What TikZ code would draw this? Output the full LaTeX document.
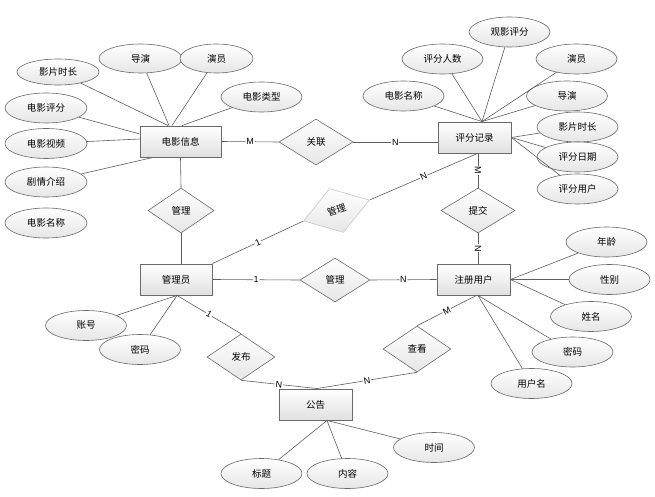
\documentclass[tikz,border=0pt]{standalone}
\usepackage{fontspec}
\newfontfamily\cjk{Noto Sans CJK SC}
\newfontfamily\lat{Liberation Sans}
\usetikzlibrary{shapes.geometric,shadows}
\definecolor{edgec}{HTML}{6A6A6A}
\definecolor{lineC}{HTML}{5E5E5E}
\definecolor{fillB}{HTML}{E0E0E0}
\definecolor{fillE}{HTML}{E6E6E6}
\begin{document}
\begin{tikzpicture}[x=1pt,y=-1pt,
  every node/.style={font=\cjk\fontsize{9.5}{11}\selectfont, text=black},
  entity/.style={rectangle, draw=edgec, line width=0.9pt, top color=white, bottom color=fillB,
    minimum height=31pt, minimum width=73pt, inner sep=0pt,
    drop shadow={opacity=0.25, shadow xshift=0.8pt, shadow yshift=-0.8pt}},
  attr/.style={ellipse, draw=edgec, line width=0.6pt, top color=white, bottom color=fillE,
    minimum width=81pt, minimum height=30pt, inner sep=0pt},
  rel/.style={diamond, draw=edgec, line width=0.6pt, top color=white, bottom color=fillE,
    minimum width=68pt, minimum height=46pt, inner sep=0pt},
  faded/.style={draw=black!22},
  conn/.style={draw=lineC, line width=0.6pt},
  lbl/.style={font=\lat\fontsize{9}{10}\selectfont, fill=white, inner sep=0.8pt, midway, sloped}
]
\fill[white] (0,0) rectangle (655,497);
\useasboundingbox (0,0) rectangle (655,497);

% entities
\node[entity, minimum width=81pt] (mi) at (180.5,141.5) {电影信息};
\node[entity] (pj) at (474.5,137.5) {评分记录};
\node[entity, minimum width=72pt] (gy) at (176,279.5) {管理员};
\node[entity] (zc) at (473.5,279.5) {注册用户};
\node[entity] (ga) at (315.5,404.5) {公告};

% relations
\node[rel, minimum width=74pt] (gl) at (316,142) {关联};
\node[rel, minimum width=66pt, minimum height=45pt] (gl2) at (181,210.5) {管理};
\node[rel, faded, rotate=17.6, minimum width=69pt, minimum height=46pt] (gr) at (336.5,210.5) {管理};
\node[rel, minimum width=70pt, minimum height=44pt] (gm) at (335,280) {管理};
\node[rel, minimum width=74pt, minimum height=45pt] (tj) at (478,210.5) {提交};
\node[rel] (fb) at (241,357) {发布};
\node[rel] (ck) at (417,349) {查看};

% attributes of 电影信息
\node[attr, minimum width=82pt, minimum height=26pt] (a1) at (58,72) {影片时长};
\node[attr, minimum width=83pt, minimum height=29pt] (a2) at (140.5,58.5) {导演};
\node[attr, minimum width=73pt, minimum height=29pt] (a3) at (216.5,58.5) {演员};
\node[attr] (a4) at (261.5,97) {电影类型};
\node[attr, minimum width=82pt] (a5) at (46,108) {电影评分};
\node[attr, minimum width=82pt] (a6) at (46,143.5) {电影视频};
\node[attr, minimum width=82pt] (a7) at (46,182) {剧情介绍};
\node[attr, minimum width=82pt] (a8) at (46,223) {电影名称};

% attributes of 评分记录
\node[attr] (b1) at (509.5,32) {观影评分};
\node[attr] (b2) at (442.5,59) {评分人数};
\node[attr] (b3) at (576.5,59) {演员};
\node[attr] (b4) at (403.5,96) {电影名称};
\node[attr] (b5) at (567,96) {导演};
\node[attr] (b6) at (577.5,127) {影片时长};
\node[attr] (b7) at (577.5,157) {评分日期};
\node[attr] (b8) at (577.5,189) {评分用户};

% attributes of 注册用户
\node[attr] (c1) at (606.5,242) {年龄};
\node[attr] (c2) at (609.5,279.5) {性别};
\node[attr] (c3) at (591,316.5) {姓名};
\node[attr] (c4) at (572.5,352) {密码};
\node[attr] (c5) at (531.5,383.5) {用户名};

% attributes of 管理员
\node[attr] (d1) at (86,325.5) {账号};
\node[attr] (d2) at (140,349.5) {密码};

% attributes of 公告
\node[attr] (e1) at (261.5,473.5) {标题};
\node[attr] (e2) at (347.5,473.5) {内容};
\node[attr] (e3) at (434,447.5) {时间};

% attribute connectors
\draw[conn] (a1) -- ([xshift=-12.5pt]mi.north);
\draw[conn] (a2) -- ([xshift=-11.5pt]mi.north);
\draw[conn] (a3) -- ([xshift=-8.5pt]mi.north);
\draw[conn] (a4) -- ([xshift=1.5pt]mi.north);
\draw[conn] (a5) -- ([yshift=7.5pt]mi.west);
\draw[conn] (a6) -- ([yshift=2.5pt]mi.west);
\draw[conn] (a7) -- ([xshift=-27.5pt]mi.south);

\foreach \n in {b1,b2,b3,b4,b5} \draw[conn] (\n) -- ([xshift=7.5pt]pj.north);
\foreach \n in {b6,b7,b8} \draw[conn] (\n) -- (pj.east);

\foreach \n in {c1,c2,c3} \draw[conn] (\n) -- (zc.east);
\foreach \n in {c4,c5} \draw[conn] (\n) -- ([xshift=4.5pt]zc.south);

\foreach \n in {d1,d2} \draw[conn] (\n) -- ([xshift=1pt]gy.south);

\foreach \n in {e1,e2,e3} \draw[conn] (\n) -- ([xshift=11.5pt]ga.south);

% relationship connectors
\draw[conn] (mi.east) -- node[lbl] {M} (gl.west);
\draw[conn] (gl.east) -- node[lbl] {N} ([yshift=-4.5pt]pj.west);
\draw[conn] (mi.south) -- (gl2.north);
\draw[conn] (gl2.south) -- ([xshift=5pt]gy.north);
\draw[conn] (gy.north east) -- node[lbl] {1} (gr.west);
\draw[conn] (gr.east) -- node[lbl] {N} ([xshift=3pt]pj.south);
\draw[conn] (gy.east) -- node[lbl] {1} (gm.west);
\draw[conn] (gm.east) -- node[lbl] {N} (zc.west);
\draw[conn] ([xshift=3.5pt]pj.south) -- node[lbl] {M} (tj.north);
\draw[conn] (tj.south) -- node[lbl] {N} ([xshift=4.5pt]zc.north);
\draw[conn] ([xshift=1pt]gy.south) -- node[lbl] {1} (fb.north);
\draw[conn] (fb.south) -- node[lbl] {N} ([xshift=1.5pt]ga.north);
\draw[conn] ([xshift=3pt]zc.south) -- node[lbl] {M} (ck.north);
\draw[conn] (ck.south) -- node[lbl] {N} ([xshift=1.5pt]ga.north);
\end{tikzpicture}
\end{document}
